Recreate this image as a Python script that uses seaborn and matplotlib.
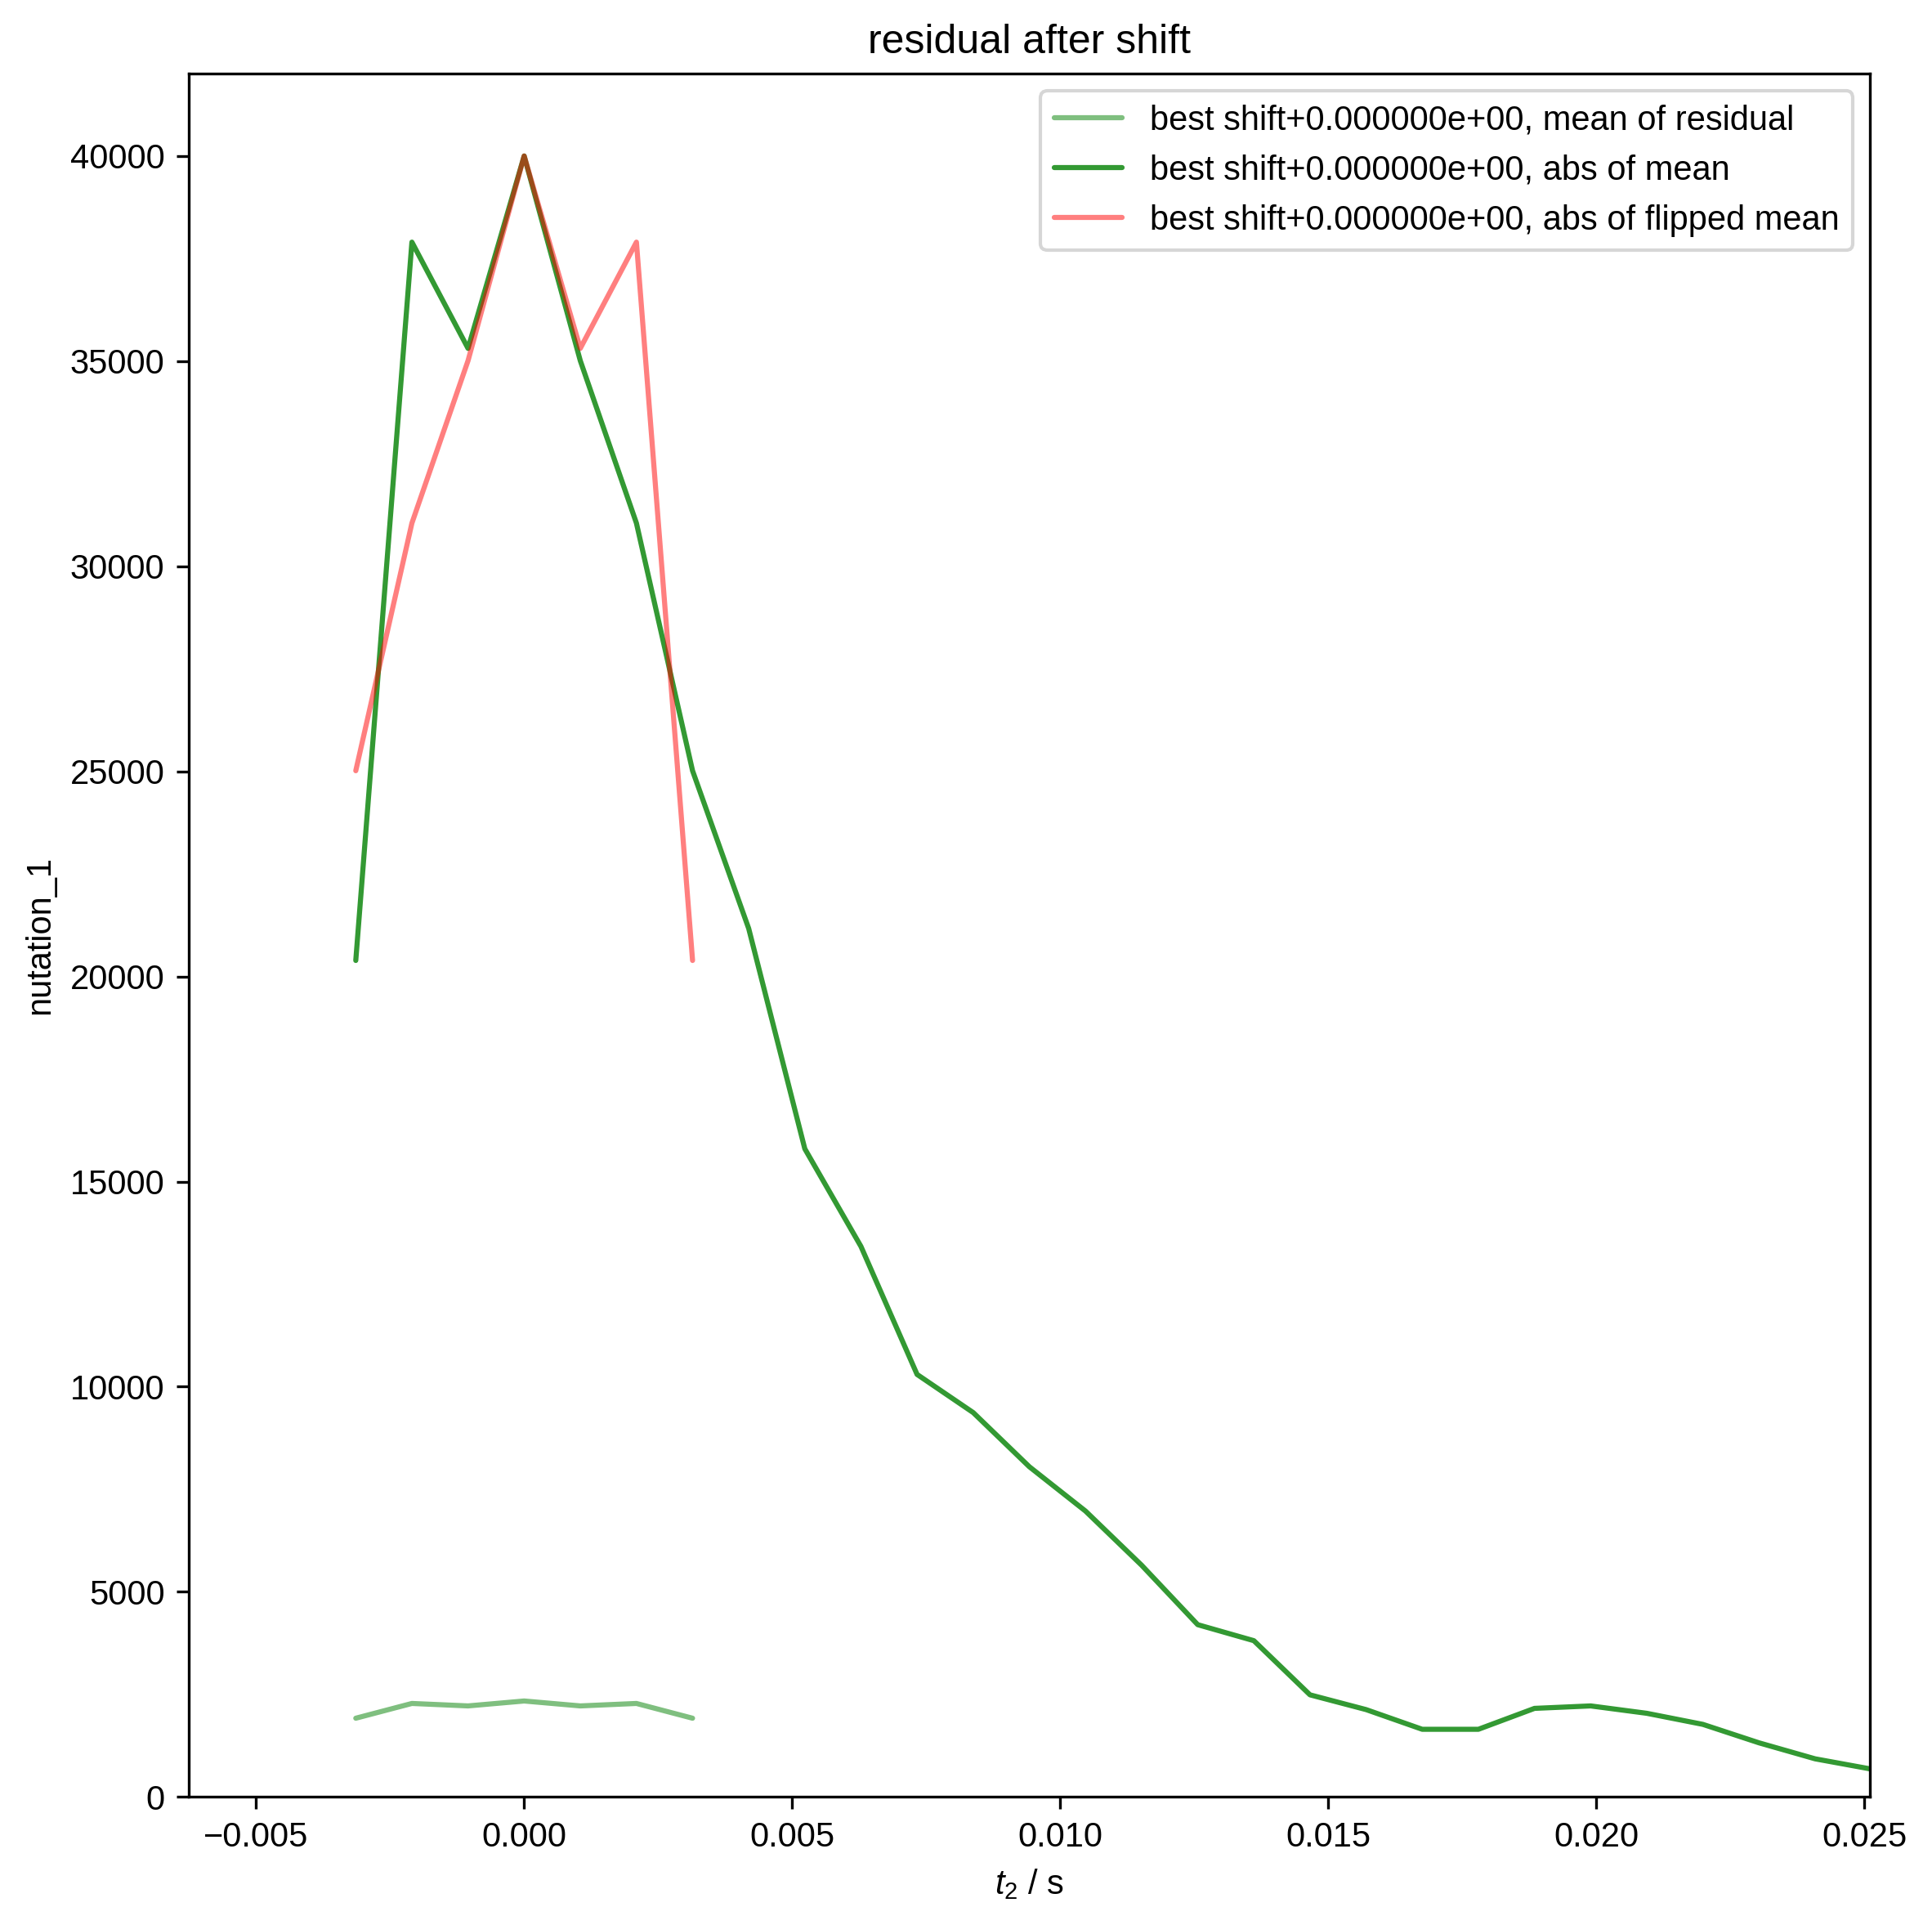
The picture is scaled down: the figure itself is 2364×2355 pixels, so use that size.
import numpy as np
import pandas as pd
import matplotlib
matplotlib.use("Agg")
import matplotlib.pyplot as plt
import seaborn as sns

# data
t_main = [-0.003141, -0.002094, -0.001047, 0.0, 0.001047, 0.002094, 0.003141,
          0.004188, 0.005235, 0.006282, 0.007329, 0.008376, 0.009423, 0.010470,
          0.011517, 0.012564, 0.013611, 0.014658, 0.015705, 0.016752, 0.017799,
          0.018846, 0.019893, 0.020940, 0.021987, 0.023034, 0.024081, 0.025128]
abs_mean = [20390, 37900, 35310, 40000, 35010, 31050, 25015, 21170, 15800,
            13420, 10300, 9370, 8050, 6970, 5650, 4200, 3810, 2490, 2130,
            1650, 1650, 2160, 2220, 2040, 1770, 1320, 930, 680]
t_short = [-0.003141, -0.002094, -0.001047, 0.0, 0.001047, 0.002094, 0.003141]
mean_resid = [1920, 2280, 2220, 2340, 2220, 2280, 1920]
abs_flipped = [25015, 31050, 35010, 40000, 35310, 37900, 20390]
labels = ["best shift+0.000000e+00, mean of residual",
          "best shift+0.000000e+00, abs of mean",
          "best shift+0.000000e+00, abs of flipped mean"]

sns.set_style("white")
plt.rcParams['font.family'] = ['Liberation Sans', 'DejaVu Sans']
plt.rcParams['mathtext.fontset'] = 'custom'
plt.rcParams['mathtext.it'] = 'Liberation Sans:italic'
plt.rcParams['mathtext.rm'] = 'Liberation Sans'
for k in ['text.color', 'axes.labelcolor', 'xtick.color', 'ytick.color', 'axes.edgecolor']:
    plt.rcParams[k] = 'black'

fig = plt.figure(figsize=(2364 / 300, 2355 / 300), dpi=300)
ax = fig.add_axes([0.0976, 0.0665, 0.9678 - 0.0976, 0.9616 - 0.0665])

sns.lineplot(x=t_short, y=mean_resid, ax=ax, color='green', alpha=0.5,
             linewidth=1.5, label=labels[0])
sns.lineplot(x=t_main, y=abs_mean, ax=ax, color='green', alpha=0.8,
             linewidth=1.5, label=labels[1])
sns.lineplot(x=t_short, y=abs_flipped, ax=ax, color='red', alpha=0.5,
             linewidth=1.5, label=labels[2])

ax.set_xlim(-0.00626, 0.0251)
ax.set_ylim(0, 42000)
ax.set_xticks([-0.005, 0.0, 0.005, 0.010, 0.015, 0.020, 0.025])
ax.set_xticklabels(["\u22120.005", "0.000", "0.005", "0.010", "0.015", "0.020", "0.025"])
ax.set_yticks([0, 5000, 10000, 15000, 20000, 25000, 30000, 35000, 40000])
ax.tick_params(axis='both', which='both', direction='out', length=3.5, width=0.8,
               labelsize=10, left=True, bottom=True, color='black', labelcolor='black')
for s in ax.spines.values():
    s.set_color('black')
    s.set_linewidth(0.8)
ax.set_xlabel("$t_2$ / s", fontsize=10, color='black')
ax.set_ylabel("nutation_1", fontsize=10, color='black')
ax.set_title("residual after shift", fontsize=12, color='black')
leg = ax.legend(loc='upper right', fontsize=10, frameon=True)
for txt in leg.get_texts():
    txt.set_color('black')

fig.savefig("out.png", dpi=300)
